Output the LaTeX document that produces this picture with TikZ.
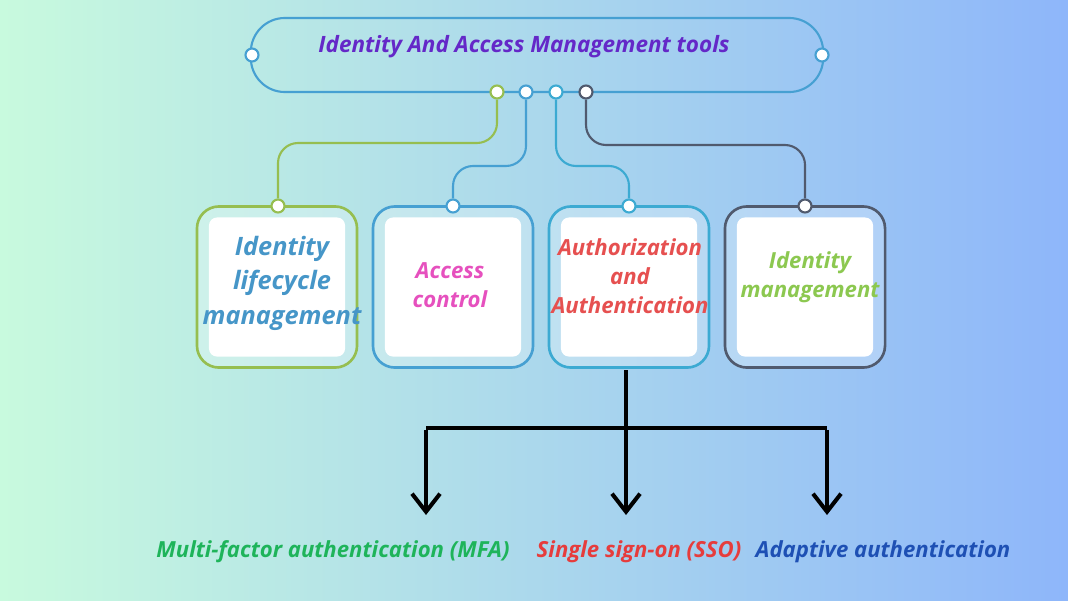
\documentclass[tikz,border=0pt]{standalone}
\usepackage{fontspec}
\setmainfont{Open Sans}
\usetikzlibrary{arrows.meta}
\definecolor{bgL}{RGB}{200,250,222}
\definecolor{bgR}{RGB}{142,182,250}
\definecolor{cG}{RGB}{150,190,80}
\definecolor{cB}{RGB}{70,160,210}
\definecolor{cT}{RGB}{60,170,210}
\definecolor{cD}{RGB}{80,90,110}
\definecolor{tPur}{RGB}{100,40,200}
\definecolor{tBlue}{RGB}{70,150,200}
\definecolor{tPink}{RGB}{230,80,190}
\definecolor{tRed}{RGB}{230,80,80}
\definecolor{tGreen}{RGB}{140,200,80}
\definecolor{lGreen}{RGB}{30,180,90}
\definecolor{lRed}{RGB}{230,60,60}
\definecolor{lBlue}{RGB}{30,80,180}
\tikzset{
 dot/.style={circle,draw=#1,fill=white,line width=0.6pt,inner sep=0pt,minimum size=0.13cm},
 outer/.style={draw=#1,line width=0.75pt,rounded corners=0.22cm,fill=white,fill opacity=0.25,minimum width=1.6cm,minimum height=1.61cm},
 inner/.style={fill=white,rounded corners=0.08cm,minimum width=1.36cm,minimum height=1.39cm},
 lbl/.style={font=\bfseries\itshape,align=center,text=#1},
 conn/.style={draw=#1,line width=0.6pt,rounded corners=0.2cm},
 arr/.style={line width=1.15pt,-{Straight Barb[length=0.18cm,width=0.28cm,line width=1.15pt]}}
}
\begin{document}
\begin{tikzpicture}[x=0.01cm,y=-0.01cm]
\shade[left color=bgL,right color=bgR] (0,0) rectangle (1068,600);
\useasboundingbox (0,0) rectangle (1068,600);
% title
\node[draw=cB,line width=0.6pt,rounded corners=0.34cm,minimum width=5.72cm,minimum height=0.74cm] (title) at (537,55) {};
\node[lbl=tPur,font=\fontsize{6.4}{8}\selectfont\bfseries\itshape] (tt) at (524,47) {Identity And Access Management tools};
\node[dot=cB] (tl) at (252,55) {};
\node[dot=cB] (tr) at (822,55) {};
\node[dot=cG] (b1) at (497,92) {};
\node[dot=cB] (b2) at (526,92) {};
\node[dot=cT] (b3) at (556,92) {};
\node[dot=cD] (b4) at (586,92) {};
% boxes
\foreach \n/\x/\c in {1/277/cG,2/453/cB,3/629/cT,4/805/cD}{
  \node[outer=\c] (o\n) at (\x,287) {};
  \node[inner] (i\n) at (\x,287) {};
}
\node[dot=cG] (t1) at (278,206) {};
\node[dot=cB] (t2) at (453,206) {};
\node[dot=cT] (t3) at (629,206) {};
\node[dot=cD] (t4) at (805,206) {};
\draw[conn=cG] (b1) -- (497,143) -- (278,143) -- (t1);
\draw[conn=cB] (b2) -- (526,166) -- (453,166) -- (t2);
\draw[conn=cT] (b3) -- (556,166) -- (629,166) -- (t3);
\draw[conn=cD] (b4) -- (586,145) -- (805,145) -- (t4);
\node[lbl=tBlue,font=\fontsize{7.2}{9.8}\selectfont\bfseries\itshape] at (282,283) {Identity\\lifecycle\\management};
\node[lbl=tPink,font=\fontsize{6.3}{8.3}\selectfont\bfseries\itshape] at (450,285) {Access\\control};
\node[lbl=tRed,font=\fontsize{6.3}{8.3}\selectfont\bfseries\itshape] at (630,276) {Authorization\\and\\Authentication};
\node[lbl=tGreen,font=\fontsize{6.3}{8.3}\selectfont\bfseries\itshape] at (810,277) {Identity\\management};
% arrows
\coordinate (j) at (626,428);
\coordinate (jl) at (426,428);
\coordinate (jr) at (827,428);
\draw[line width=1.15pt] (626,370) -- (j);
\draw[line width=1.15pt] (jl) -- (jr);
\coordinate (e1) at (426,515);
\coordinate (e2) at (626,515);
\coordinate (e3) at (827,515);
\draw[arr] ([yshift=-0.5pt]jl) -- (e1);
\draw[arr] (j) -- (e2);
\draw[arr] ([yshift=-0.5pt]jr) -- (e3);
\node[lbl=lGreen,font=\fontsize{6.3}{7}\selectfont\bfseries\itshape] (m1) at (333,552) {Multi-factor authentication (MFA)};
\node[lbl=lRed,font=\fontsize{6.3}{7}\selectfont\bfseries\itshape] (m2) at (639,552) {Single sign-on (SSO)};
\node[lbl=lBlue,font=\fontsize{6.3}{7}\selectfont\bfseries\itshape] (m3) at (883,552) {Adaptive authentication};
\end{tikzpicture}
\end{document}
